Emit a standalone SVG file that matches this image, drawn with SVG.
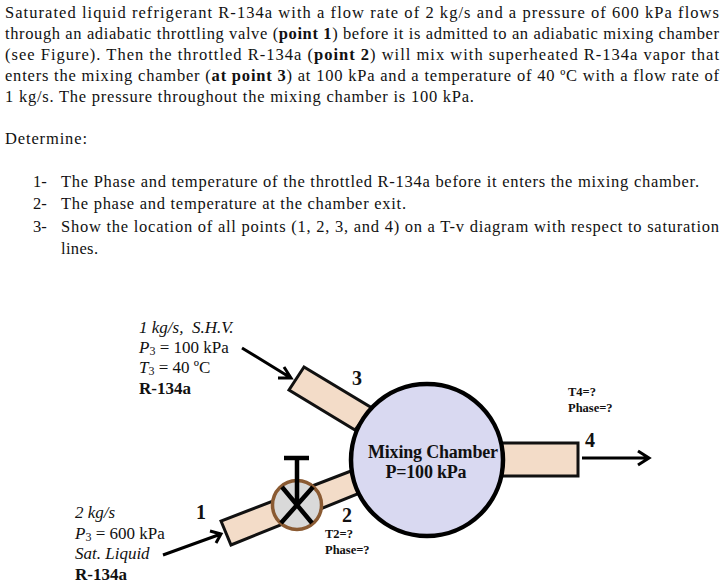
<svg xmlns="http://www.w3.org/2000/svg" width="726" height="585" viewBox="0 0 726 585">
<style>
text{font-family:"Liberation Serif","Times New Roman",serif;fill:#111}
.p{font-size:16.5px}
.d{font-size:16.5px}
.l{font-size:17px}
.i{font-style:italic}
.b{font-weight:bold}
.n{font-size:20px;font-weight:bold}
.q{font-size:12.5px;font-weight:bold}
.pipe{fill:#f3dcc8;stroke:#111;stroke-width:3}
.c{fill:none;stroke:#000;stroke-width:3}
.v{fill:none;stroke:#000;stroke-width:4.5}
</style>
<rect width="726" height="585" fill="#fff"/>
<g id="problem-text">
<text class="p" x="5" y="18" textLength="714" lengthAdjust="spacing">Saturated liquid refrigerant R-134a with a flow rate of 2 kg/s and a pressure of 600 kPa flows</text>
<text class="p" x="5" y="39" textLength="714" lengthAdjust="spacing">through an adiabatic throttling valve (<tspan class="b">point 1</tspan>) before it is admitted to an adiabatic mixing chamber</text>
<text class="p" x="5" y="60" textLength="714" lengthAdjust="spacing">(see Figure). Then the throttled R-134a (<tspan class="b">point 2</tspan>) will mix with superheated R-134a vapor that</text>
<text class="p" x="5" y="81" textLength="714" lengthAdjust="spacing">enters the mixing chamber (<tspan class="b">at point 3</tspan>) at 100 kPa and a temperature of 40 ºC with a flow rate of</text>
<text class="p" x="5" y="102" textLength="469" lengthAdjust="spacing">1 kg/s. The pressure throughout the mixing chamber is 100 kPa.</text>
<text class="d" x="5" y="144" textLength="82" lengthAdjust="spacing">Determine:</text>
<text class="d" x="33" y="187">1-</text>
<text class="d" x="61" y="187" textLength="638" lengthAdjust="spacing">The Phase and temperature of the throttled R-134a before it enters the mixing chamber.</text>
<text class="d" x="33" y="209">2-</text>
<text class="d" x="61" y="209" textLength="345" lengthAdjust="spacing">The phase and temperature at the chamber exit.</text>
<text class="d" x="33" y="232">3-</text>
<text class="d" x="61" y="232" textLength="658" lengthAdjust="spacing">Show the location of all points (1, 2, 3, and 4) on a T-v diagram with respect to saturation</text>
<text class="d" x="61" y="254" textLength="37" lengthAdjust="spacing">lines.</text>
</g>
<g id="pipe-3"><polygon class="pipe" points="304,367 289,390 355,430 372,408"/></g>
<g id="pipe-1-2"><polygon class="pipe" points="221,521 231,545 360,493 351,471"/></g>
<g id="pipe-4"><rect class="pipe" x="500" y="443" width="78" height="33"/></g>
<g id="valve">
<circle cx="297" cy="505" r="24.5" fill="#d9d9d9" stroke="#8a5a32" stroke-width="3.5"/>
<path class="v" d="M282 487L312 523M281 523L313 487M297 505V457M284 458H309"/>
</g>
<g id="mixing-chamber">
<circle cx="427" cy="460" r="76" fill="#d9d9f1" stroke="#000" stroke-width="4.5"/>
<text class="b" x="433" y="458" font-size="18" text-anchor="middle" textLength="130" lengthAdjust="spacing">Mixing Chamber</text>
<text class="b" x="426" y="478" font-size="18" text-anchor="middle" textLength="81" lengthAdjust="spacing">P=100 kPa</text>
</g>
<g id="connectors">
<path class="c" d="M242 348L291 378M284 367L291 378L278 378"/>
<path class="c" d="M163 555L221 534M210 531L221 534L216 543"/>
<path class="c" d="M582 458H649M638 451L649 458L638 465"/>
</g>
<g id="inlet-3-label">
<text class="l i" x="139" y="333" xml:space="preserve">1 kg/s,  S.H.V.</text>
<text class="l" x="139" y="353"><tspan class="i">P</tspan><tspan font-size="12" dy="2">3</tspan><tspan dy="-2"> = 100 kPa</tspan></text>
<text class="l" x="139" y="373"><tspan class="i">T</tspan><tspan font-size="12" dy="2">3</tspan><tspan dy="-2"> = 40 ºC</tspan></text>
<text class="l b" x="139" y="394">R-134a</text>
</g>
<g id="inlet-1-label">
<text class="l i" x="75" y="518">2 kg/s</text>
<text class="l" x="75" y="539"><tspan class="i">P</tspan><tspan font-size="12" dy="2">3</tspan><tspan dy="-2"> = 600 kPa</tspan></text>
<text class="l i" x="75" y="559">Sat. Liquid</text>
<text class="l b" x="75" y="580">R-134a</text>
</g>
<g id="point-labels">
<text class="n" x="352" y="385">3</text>
<text class="n" x="196" y="519">1</text>
<text class="n" x="342" y="522">2</text>
<text class="n" x="585" y="447">4</text>
<text class="q" x="325" y="538">T2=?</text>
<text class="q" x="325" y="554">Phase=?</text>
<text class="q" x="568" y="396">T4=?</text>
<text class="q" x="568" y="412">Phase=?</text>
</g>
</svg>
